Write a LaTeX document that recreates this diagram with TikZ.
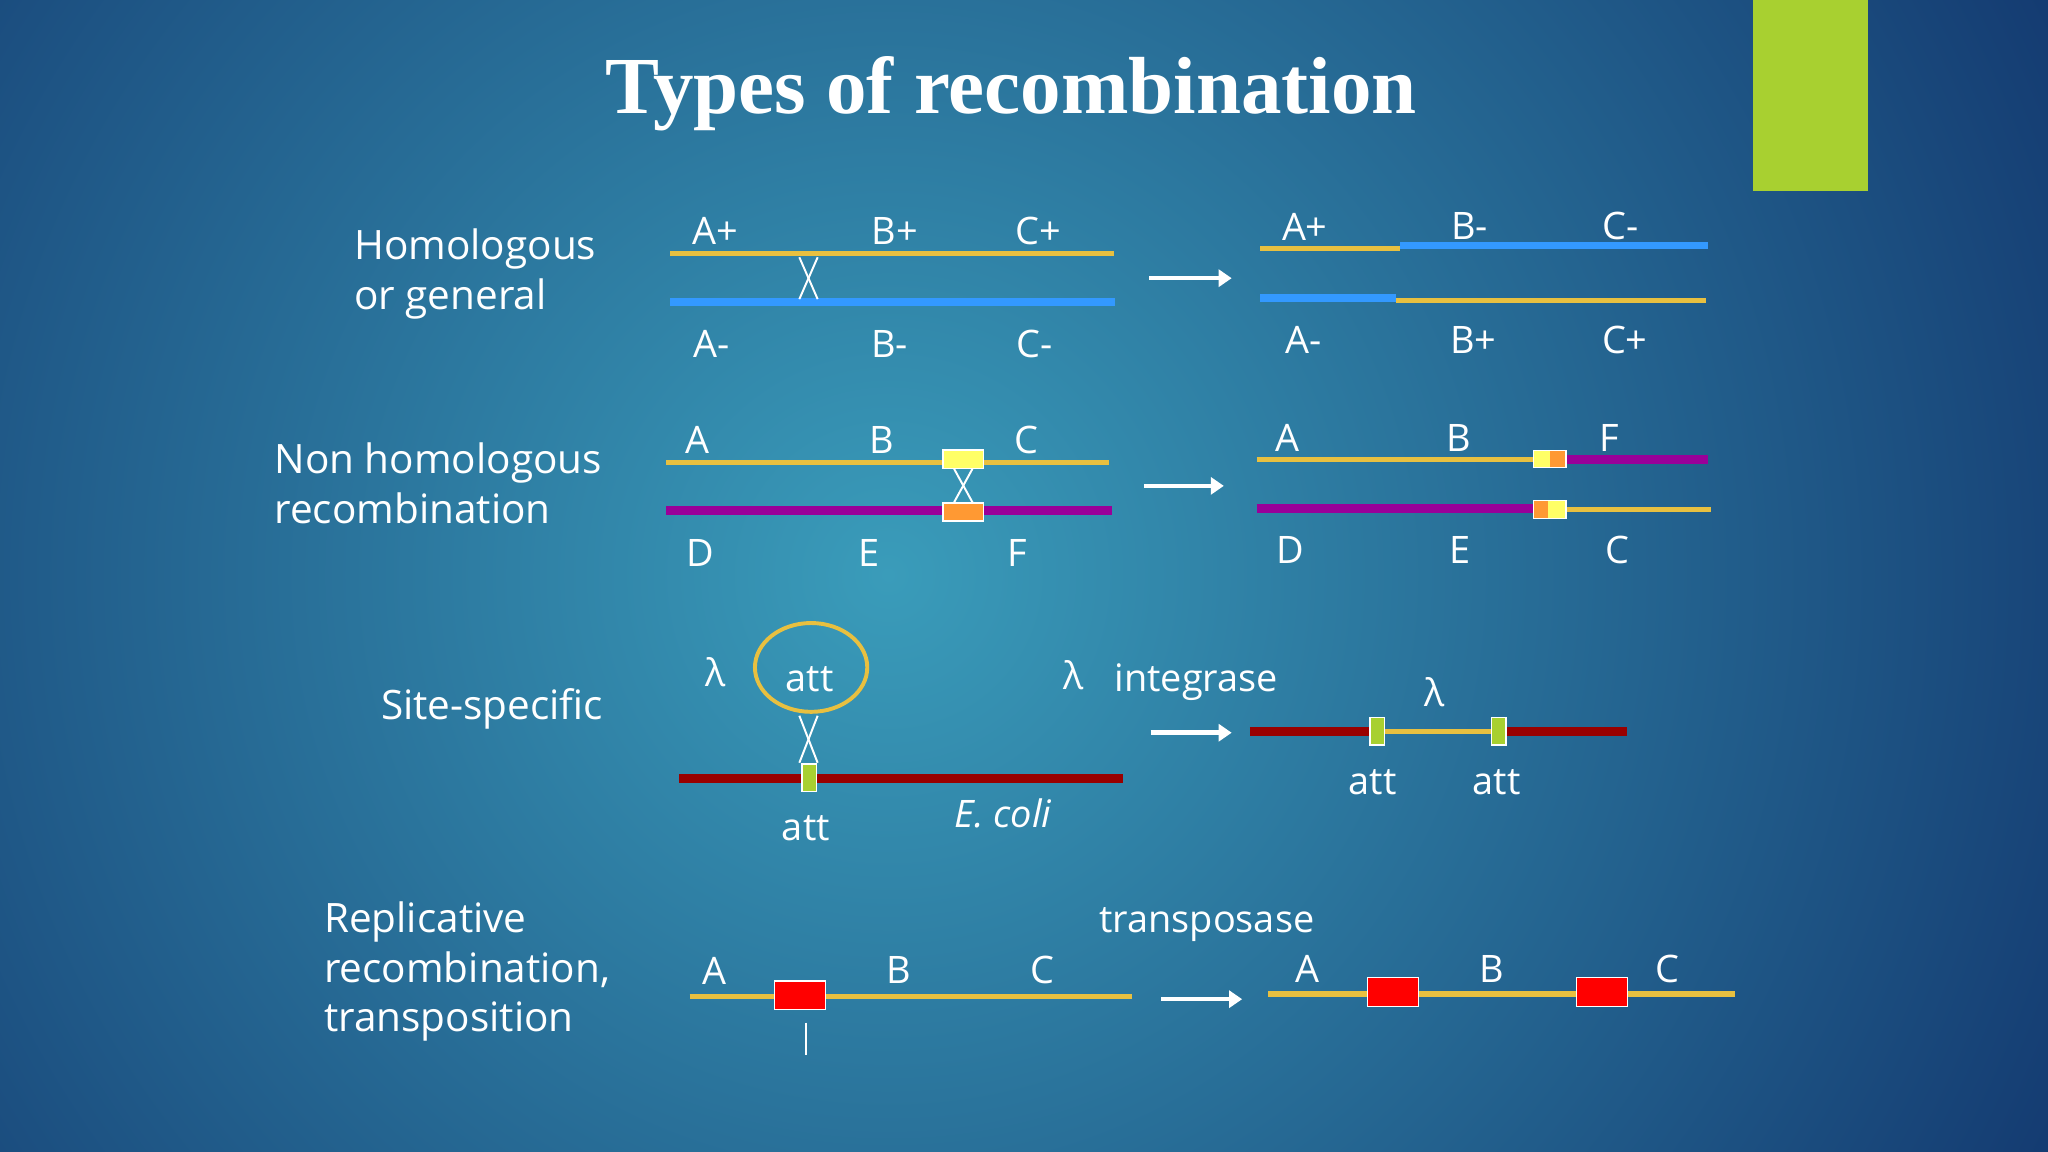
\documentclass[tikz,border=0pt]{standalone}
\usepackage{fontspec}
\setmainfont{Open Sans}
\newfontfamily\titlefont{Liberation Serif}
\usetikzlibrary{arrows.meta}
\definecolor{bgin}{HTML}{3A9CBA}
\definecolor{bgout}{HTML}{0E2C66}
\definecolor{ylw}{HTML}{E8C040}
\definecolor{blu}{HTML}{3399FF}
\definecolor{pur}{HTML}{990099}
\definecolor{drd}{HTML}{990000}
\definecolor{grn}{HTML}{A8D030}
\definecolor{org}{HTML}{FF9933}
\definecolor{lyl}{HTML}{FFFF66}
\tikzset{
 lbl/.style={text=white,font=\fontsize{29}{32}\selectfont,inner sep=0pt},
 side/.style={text=white,font=\fontsize{31}{38}\selectfont,inner sep=0pt,align=left,anchor=west},
 yl/.style={ylw,line width=4pt},
 bl/.style={blu,line width=6pt},
 pl/.style={pur,line width=7pt},
 rl/.style={drd,line width=7pt},
 cross/.style={white,line width=1.5pt},
 arr/.style={white,line width=3.5pt,-{Triangle[length=10pt,width=13pt]}},
 box/.style={draw=white,line width=1pt,minimum size=0pt,inner sep=0pt},
}
\begin{document}
\begin{tikzpicture}[x=1pt,y=-1pt]
\useasboundingbox (0,0) rectangle (1568,882);
\begin{scope}
\clip (0,0) rectangle (1568,882);
\fill[bgout] (0,0) rectangle (1568,882);
\shade[inner color=bgin,outer color=bgout] (680,440) circle (1150);
\end{scope}
\fill[grn] (1342,0) rectangle (1430,146);
\node[text=white,font=\titlefont\bfseries\fontsize{62}{66}\selectfont,inner sep=0pt] (title) at (774,72) {Types of recombination};

% Row 1
\node[side] (h1) at (271,210) {Homologous\\or general};
\coordinate (y1a) at (513,194); \coordinate (y1b) at (853,194);
\coordinate (b1a) at (513,231); \coordinate (b1b) at (854,231);
\draw[yl] (y1a) -- (y1b);
\draw[bl] (b1a) -- (b1b);
\coordinate (x1t) at (619,197); \coordinate (x1b) at (619,229);
\draw[cross] ([xshift=-7]x1t) -- ([xshift=7]x1b);
\draw[cross] ([xshift=7]x1t) -- ([xshift=-7]x1b);
\node[lbl] (l1) at (548,177) {A+};
\node[lbl] (l2) at (685,177) {B+};
\node[lbl] (l3) at (795,177) {C+};
\node[lbl] (l4) at (545,263) {A-};
\node[lbl] (l5) at (681,263) {B-};
\node[lbl] (l6) at (792,263) {C-};
\coordinate (a1s) at (880,213); \coordinate (a1e) at (943,213);
\draw[arr] (a1s) -- (a1e);
\draw[yl] (965,190) -- (1072,190);
\draw[bl] (1072,188) -- (1308,188);
\draw[bl] (965,228) -- (1069,228);
\draw[yl] (1069,230) -- (1306,230);
\node[lbl] (r1) at (999,174) {A+};
\node[lbl] (r2) at (1125,173) {B-};
\node[lbl] (r3) at (1241,173) {C-};
\node[lbl] (r4) at (998,260) {A-};
\node[lbl] (r5) at (1128,260) {B+};
\node[lbl] (r6) at (1244,260) {C+};

% Row 2
\node[side] (h2) at (210,370) {Non homologous\\recombination};
\draw[yl] (510,354) -- (849,354);
\draw[pl] (510,391) -- (851,391);
\node[box,fill=lyl,minimum width=31pt,minimum height=14pt] (sq1) at (737.5,351.5) {};
\node[box,fill=org,minimum width=31pt,minimum height=14pt] (sq2) at (737.5,392) {};
\draw[cross] ([xshift=-7]sq1.south) -- ([xshift=7]sq2.north);
\draw[cross] ([xshift=7]sq1.south) -- ([xshift=-7]sq2.north);
\node[lbl] (m1) at (534,337) {A};
\node[lbl] (m2) at (675,337) {B};
\node[lbl] (m3) at (786,337) {C};
\node[lbl] (m4) at (536,423) {D};
\node[lbl] (m5) at (665,423) {E};
\node[lbl] (m6) at (779,423) {F};
\draw[arr] (876,372) -- (937,372);
\draw[yl] (962,352) -- (1174,352);
\draw[pl] (1199,352) -- (1308,352);
\draw[pl] (962,389) -- (1174,389);
\draw[yl] (1199,390) -- (1310,390);
\fill[lyl] (1174,345) rectangle (1187,358);
\fill[org] (1187,345) rectangle (1199,358);
\draw[white,line width=1pt] (1174,345) rectangle (1199,358);
\fill[org] (1174,383) rectangle (1185,397);
\fill[lyl] (1185,383) rectangle (1199,397);
\draw[white,line width=1pt] (1174,383) rectangle (1199,397);
\node[lbl] (n1) at (986,335) {A};
\node[lbl] (n2) at (1117,335) {B};
\node[lbl] (n3) at (1232,335) {F};
\node[lbl] (n4) at (988,421) {D};
\node[lbl] (n5) at (1118,421) {E};
\node[lbl] (n6) at (1238,421) {C};

% Row 3
\node[side,anchor=east] (h3) at (462,543) {Site-specific};
\node[lbl] (lam1) at (548,515) {λ};
\draw[ylw,line width=3pt] (621,511) ellipse (43 and 34);
\node[lbl] (att0) at (620,520) {att};
\draw[rl] (520,596) -- (860,596);
\node[box,fill=grn,minimum width=11pt,minimum height=21pt] (g0) at (619.5,595.5) {};
\draw[cross] (612,548) -- (626,584);
\draw[cross] (626,548) -- (612,584);
\node[lbl] (att1) at (617,634) {att};
\node[lbl,font=\fontsize{29}{32}\selectfont\itshape] (eco) at (768,623) {E. coli};
\node[lbl] (lam2) at (822,517) {λ};
\node[lbl] (intg) at (916,522) {integrase};
\draw[arr] (881,561) -- (943,561);
\draw[rl] (957,560) -- (1049,560);
\draw[yl] (1060,560) -- (1142,560);
\draw[rl] (1153,560) -- (1246,560);
\node[box,fill=grn,minimum width=11pt,minimum height=21pt] (g1) at (1054.5,560) {};
\node[box,fill=grn,minimum width=11pt,minimum height=21pt] (g2) at (1147.5,560) {};
\node[lbl] (lam3) at (1098,530) {λ};
\node[lbl] (att2) at (1051,599) {att};
\node[lbl] (att3) at (1146,599) {att};

% Row 4
\node[side] (h4) at (248,744) {Replicative\\recombination,\\transposition};
\draw[yl] (528,763) -- (867,763);
\node[box,fill=red,minimum width=39pt,minimum height=22pt] (t0) at (612.5,762) {};
\draw[white,line width=1pt] (617,783) -- (617,808);
\node[lbl] (p1) at (547,743) {A};
\node[lbl] (p2) at (688,743) {B};
\node[lbl] (p3) at (798,743) {C};
\node[lbl] (tp) at (924,708) {transposase};
\draw[arr] (889,765) -- (951,765);
\draw[yl] (971,761) -- (1328,761);
\node[box,fill=red,minimum width=39pt,minimum height=22pt] (t1) at (1066.5,759.5) {};
\node[box,fill=red,minimum width=39pt,minimum height=22pt] (t2) at (1226.5,759.5) {};
\node[lbl] (q1) at (1001,742) {A};
\node[lbl] (q2) at (1142,742) {B};
\node[lbl] (q3) at (1277,742) {C};
\end{tikzpicture}
\end{document}
